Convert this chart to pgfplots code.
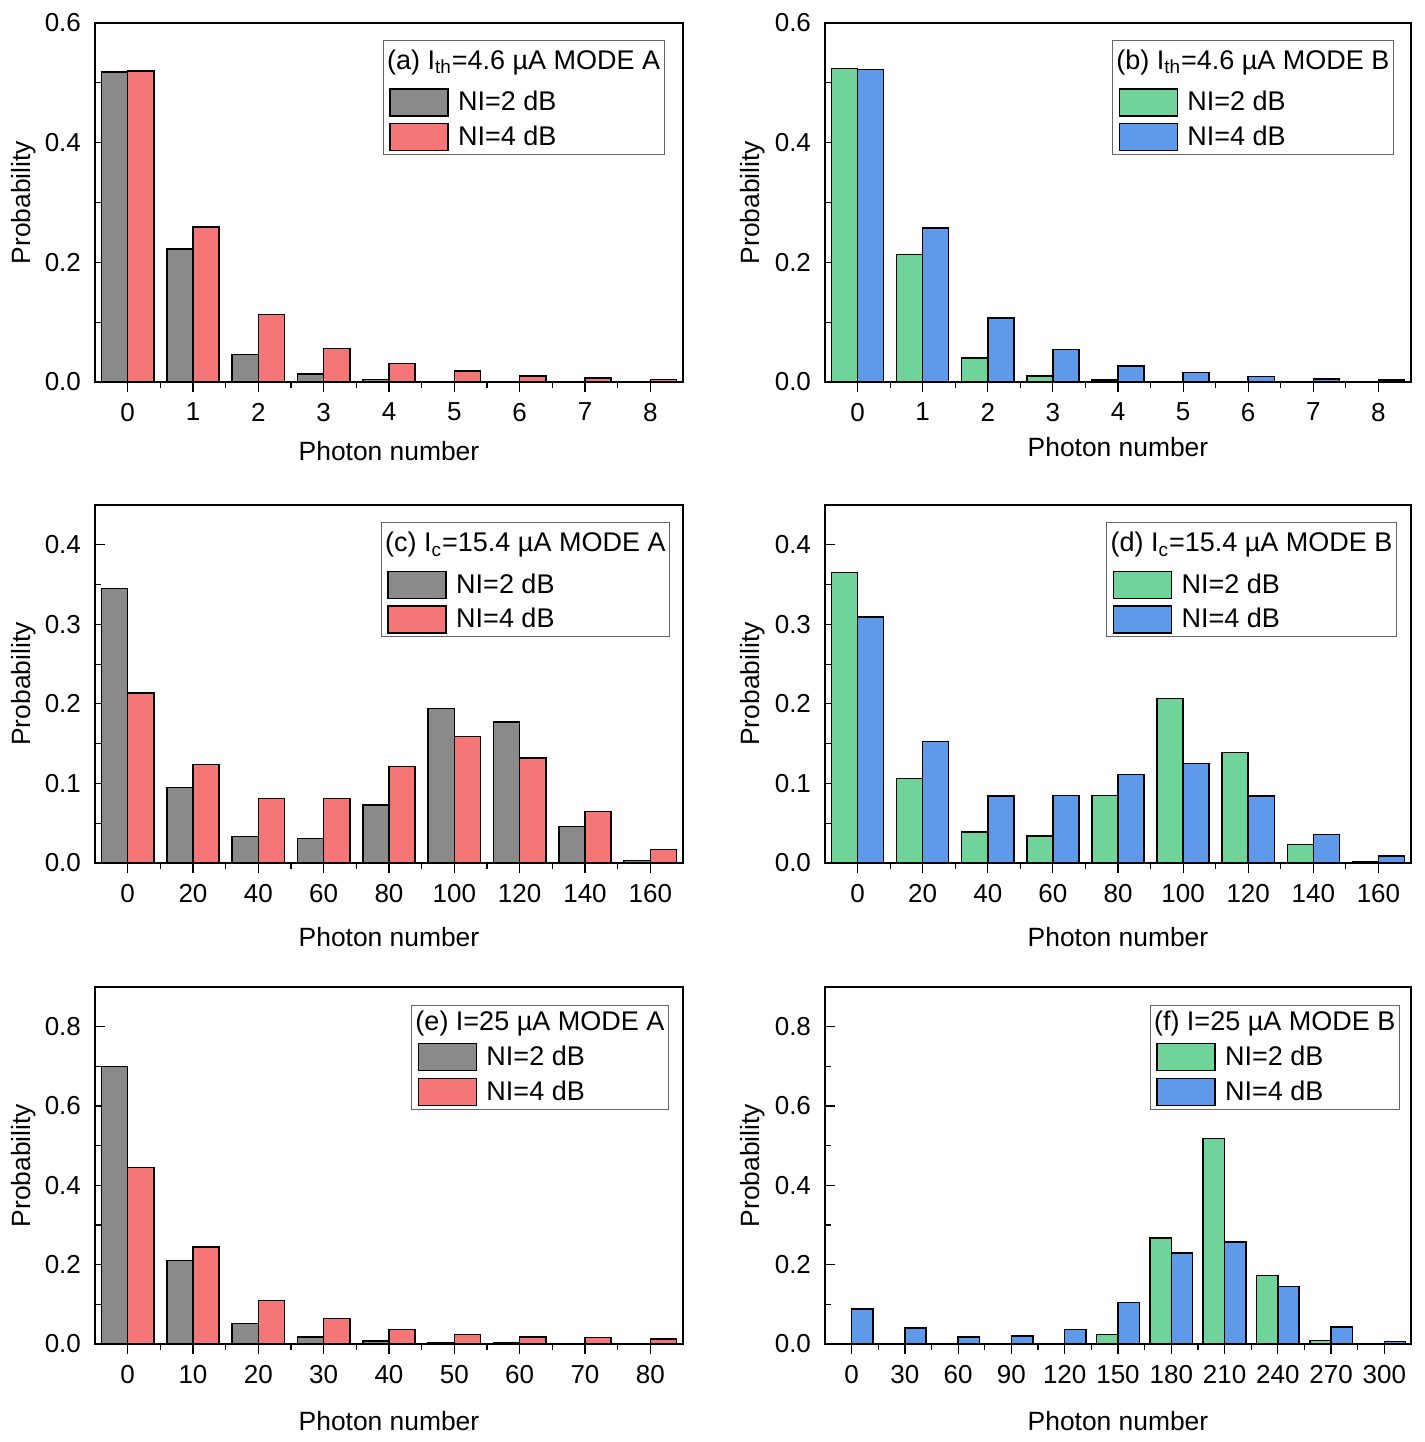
\documentclass[border=0pt]{standalone}
\usepackage{pgfplots}
\pgfplotsset{compat=1.18}
\usepackage{fontspec}
\setmainfont{Liberation Sans}
\definecolor{cgray}{RGB}{138,138,138}
\definecolor{cred}{RGB}{244,118,118}
\definecolor{cgreen}{RGB}{112,211,154}
\definecolor{cblue}{RGB}{95,154,234}
\pgfplotsset{
  panel/.style={
    scale only axis, anchor=south west, ymin=0,
    axis line style={line width=0.6pt},
    xtick align=outside, ytick align=inside,
    xtick pos=bottom, ytick pos=left,
    major tick length=5pt, minor tick length=3pt,
    every tick/.style={black, line width=0.6pt},
    minor x tick num=1, minor y tick num=1,
    tick label style={font=\fontsize{13}{15}\selectfont},
    xticklabel style={yshift=-2pt},
    /pgf/number format/assume math mode=true,
    yticklabel style={/pgf/number format/fixed, /pgf/number format/fixed zerofill, /pgf/number format/precision=1, xshift=-3.5pt},
    label style={font=\fontsize{13.2}{15}\selectfont},
    ylabel={Probability}, xlabel={Photon number},
    legend style={draw=black!60, line width=0.5pt, font=\fontsize{13.5}{16}\selectfont, anchor=north east, row sep=2pt, inner ysep=1pt},
    legend cell align=left,
  },
  sw/.style={draw=black, line width=0.75pt, legend image code/.code={\draw[##1] (0pt,-6.75pt) rectangle (29pt,6.75pt); \path[draw=none] (32pt,0pt);}},
  subtitle/.style={legend image code/.code={\path[draw=none,fill=none] (0pt,-11pt) (0pt,9.5pt);}},
  plaintitle/.style={legend image code/.code={}},
}
\begin{document}
\begin{tikzpicture}
\path[use as bounding box] (0,0) rectangle (712.5pt,721pt);
% (a)
\begin{axis}[panel, at={(47.5pt,530pt)}, width=294pt, height=179.5pt,
  xmin=-0.5, xmax=8.5, ymax=0.6, xtick={0,...,8}, ytick={0,0.2,0.4,0.6},
  ylabel style={at={(axis description cs:-0.121,0.5)}, anchor=center},
  xlabel style={at={(axis description cs:0.5,-0.192)}, anchor=center},
  legend style={at={(0.969,0.953)}}]
\addlegendimage{subtitle}
\addlegendentry{\hspace*{-35.5pt}(a) I\textsubscript{th}=4.6 µA MODE A\hspace*{-3pt}}
\addplot[ybar, sw, fill=cgray, bar width=0.4, bar shift=-0.2] coordinates {(0,0.518) (1,0.222) (2,0.046) (3,0.013) (4,0.004) (5,0.001)};
\addlegendentry{NI=2 dB}
\addplot[ybar, sw, fill=cred, bar width=0.4, bar shift=0.2] coordinates {(0,0.520) (1,0.259) (2,0.113) (3,0.056) (4,0.031) (5,0.018) (6,0.010) (7,0.007) (8,0.004)};
\addlegendentry{NI=4 dB}
\end{axis}
% (b)
\begin{axis}[panel, at={(412.5pt,530pt)}, width=293pt, height=179.5pt,
  xmin=-0.5, xmax=8.5, ymax=0.6, xtick={0,...,8}, ytick={0,0.2,0.4,0.6},
  ylabel style={at={(axis description cs:-0.123,0.5)}, anchor=center},
  xlabel style={at={(axis description cs:0.5,-0.181)}, anchor=center},
  legend style={at={(0.971,0.953)}}]
\addlegendimage{subtitle}
\addlegendentry{\hspace*{-35.5pt}(b) I\textsubscript{th}=4.6 µA MODE B\hspace*{-3pt}}
\addplot[ybar, sw, fill=cgreen, bar width=0.4, bar shift=-0.2] coordinates {(0,0.524) (1,0.213) (2,0.040) (3,0.010) (4,0.003)};
\addlegendentry{NI=2 dB}
\addplot[ybar, sw, fill=cblue, bar width=0.4, bar shift=0.2] coordinates {(0,0.522) (1,0.257) (2,0.107) (3,0.054) (4,0.027) (5,0.016) (6,0.009) (7,0.005) (8,0.003)};
\addlegendentry{NI=4 dB}
\end{axis}
% (c)
\begin{axis}[panel, at={(47.5pt,289.5pt)}, width=294pt, height=179pt,
  xmin=-10, xmax=170, ymax=0.45, xtick={0,20,...,160}, ytick={0,0.1,...,0.4},
  ylabel style={at={(axis description cs:-0.121,0.5)}, anchor=center},
  xlabel style={at={(axis description cs:0.5,-0.207)}, anchor=center},
  legend style={at={(0.978,0.9525)}}]
\addlegendimage{subtitle}
\addlegendentry{\hspace*{-35.5pt}(c) I\textsubscript{c}=15.4 µA MODE A\hspace*{-3pt}}
\addplot[ybar, sw, fill=cgray, bar width=8, bar shift=-4] coordinates {(0,0.345) (20,0.095) (40,0.033) (60,0.031) (80,0.073) (100,0.194) (120,0.177) (140,0.046) (160,0.003)};
\addlegendentry{NI=2 dB}
\addplot[ybar, sw, fill=cred, bar width=8, bar shift=4] coordinates {(0,0.214) (20,0.124) (40,0.081) (60,0.081) (80,0.121) (100,0.159) (120,0.132) (140,0.065) (160,0.017)};
\addlegendentry{NI=4 dB}
\end{axis}
% (d)
\begin{axis}[panel, at={(412.5pt,289.5pt)}, width=293pt, height=179pt,
  xmin=-10, xmax=170, ymax=0.45, xtick={0,20,...,160}, ytick={0,0.1,...,0.4},
  ylabel style={at={(axis description cs:-0.123,0.5)}, anchor=center},
  xlabel style={at={(axis description cs:0.5,-0.207)}, anchor=center},
  legend style={at={(0.976,0.9525)}}]
\addlegendimage{subtitle}
\addlegendentry{\hspace*{-35.5pt}(d) I\textsubscript{c}=15.4 µA MODE B\hspace*{-3pt}}
\addplot[ybar, sw, fill=cgreen, bar width=8, bar shift=-4] coordinates {(0,0.365) (20,0.106) (40,0.039) (60,0.034) (80,0.085) (100,0.207) (120,0.139) (140,0.023) (160,0.001)};
\addlegendentry{NI=2 dB}
\addplot[ybar, sw, fill=cblue, bar width=8, bar shift=4] coordinates {(0,0.309) (20,0.153) (40,0.084) (60,0.085) (80,0.111) (100,0.125) (120,0.084) (140,0.036) (160,0.009)};
\addlegendentry{NI=4 dB}
\end{axis}
% (e)
\begin{axis}[panel, at={(47.5pt,49pt)}, width=294pt, height=178.5pt,
  xmin=-5, xmax=85, ymax=0.9, xtick={0,10,...,80}, ytick={0,0.2,...,0.8},
  ylabel style={at={(axis description cs:-0.121,0.5)}, anchor=center},
  xlabel style={at={(axis description cs:0.5,-0.216)}, anchor=center},
  legend style={at={(0.976,0.95)}}]
\addlegendimage{plaintitle}
\addlegendentry{\hspace*{-35.5pt}(e) I=25 µA MODE A\hspace*{-3pt}}
\addplot[ybar, sw, fill=cgray, bar width=4, bar shift=-2] coordinates {(0,0.700) (10,0.210) (20,0.052) (30,0.018) (40,0.008) (50,0.003) (60,0.002) (70,0.001)};
\addlegendentry{NI=2 dB}
\addplot[ybar, sw, fill=cred, bar width=4, bar shift=2] coordinates {(0,0.445) (10,0.245) (20,0.110) (30,0.064) (40,0.037) (50,0.024) (60,0.018) (70,0.016) (80,0.012)};
\addlegendentry{NI=4 dB}
\end{axis}
% (f)
\begin{axis}[panel, at={(412.5pt,49pt)}, width=293pt, height=178.5pt,
  xmin=-15, xmax=315, ymax=0.9, xtick={0,30,...,300}, ytick={0,0.2,...,0.8},
  ylabel style={at={(axis description cs:-0.123,0.5)}, anchor=center},
  xlabel style={at={(axis description cs:0.5,-0.216)}, anchor=center},
  legend style={at={(0.981,0.95)}}]
\addlegendimage{plaintitle}
\addlegendentry{\hspace*{-35.5pt}(f) I=25 µA MODE B\hspace*{-3pt}}
\addplot[ybar, sw, fill=cgreen, bar width=12, bar shift=-6] coordinates {(150,0.024) (180,0.267) (210,0.518) (240,0.173) (270,0.009)};
\addlegendentry{NI=2 dB}
\addplot[ybar, sw, fill=cblue, bar width=12, bar shift=6] coordinates {(0,0.088) (30,0.040) (60,0.018) (90,0.020) (120,0.037) (150,0.105) (180,0.230) (210,0.257) (240,0.145) (270,0.043) (300,0.006)};
\addlegendentry{NI=4 dB}
\end{axis}
\end{tikzpicture}
\end{document}
